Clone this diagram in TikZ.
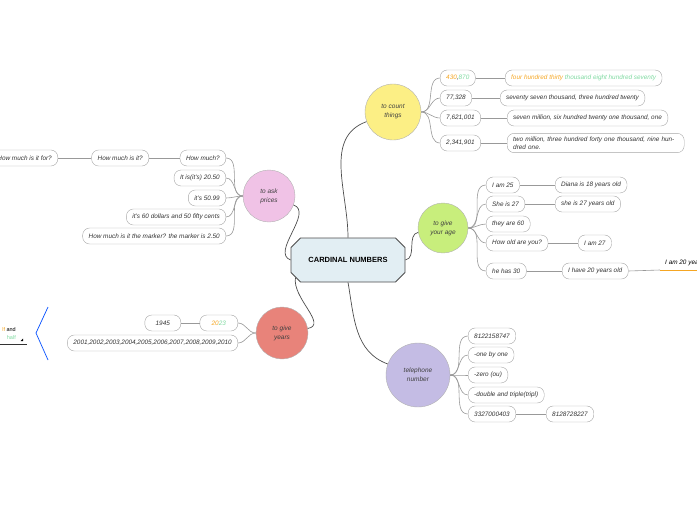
\documentclass[tikz,border=0pt]{standalone}
\usepackage{fontspec}
\setmainfont{Liberation Sans}
\usetikzlibrary{shapes.geometric,shapes.misc}
\definecolor{ora}{HTML}{F5A623}
\definecolor{grn}{HTML}{7ED9A0}
\definecolor{cyl}{HTML}{FCEF85}
\definecolor{cgr}{HTML}{C8EE7C}
\definecolor{cpk}{HTML}{F0C2E6}
\definecolor{csa}{HTML}{E8837A}
\definecolor{clv}{HTML}{C4BCE4}
\definecolor{cbl}{HTML}{E2EEF3}
\begin{document}
\begin{tikzpicture}[x=1pt,y=-1pt,
 bx/.style={draw=gray!70,rounded corners=7pt,minimum height=16pt,inner xsep=6pt,font=\fontsize{6.4}{8}\selectfont\itshape,text=black!80,anchor=west},
 tp/.style={circle,draw=gray!60,font=\fontsize{6.5}{9}\selectfont\itshape,text=black!75,align=center,inner sep=1pt},
 ln/.style={draw=gray!80,line width=0.6pt},
 cn/.style={draw=black!70,line width=0.7pt}]
\useasboundingbox (0,0) rectangle (697,520);
% central
\node[draw=black!70,fill=cbl,line width=0.8pt,chamfered rectangle,chamfered rectangle xsep=6pt,minimum width=114pt,minimum height=44pt,font=\fontsize{7.5}{8}\selectfont\bfseries] (c) at (348,260) {CARDINAL NUMBERS};
% topics
\node[tp,fill=cyl,minimum size=56pt] (t1) at (393,112) {to count\\things};
\node[tp,fill=cgr,minimum size=50pt] (t2) at (443,228) {to give\\your age};
\node[tp,fill=cpk,minimum size=52pt] (t3) at (269,196) {to ask\\prices};
\node[tp,fill=csa,minimum size=52pt] (t4) at (282,333) {to give\\years};
\node[tp,fill=clv,minimum size=64pt] (t5) at (418,375) {telephone\\number};
\draw[cn] (c.north) to[out=90,in=200] (t1);
\draw[cn] (c.east) to[out=10,in=190] (t2);
\draw[cn] (c.west) to[out=160,in=-20] (t3);
\draw[cn] (c.south west) to[out=-100,in=10] (t4);
\draw[cn] (c.south) to[out=-80,in=160] (t5);
% count things
\node[bx] (a1) at (440,78) {\textcolor{ora}{430},\textcolor{grn}{870}};
\node[bx] (a1b) at (505,78) {\textcolor{ora}{four hundred thirty} \textcolor{grn}{thousand eight hundred seventy}};
\node[bx] (a2) at (440,98) {77,328};
\node[bx] (a2b) at (500,98) {seventy seven thousand, three hundred twenty};
\node[bx] (a3) at (440,118) {7,621,001};
\node[bx] (a3b) at (507,118) {seven million, six hundred twenty one thousand, one};
\node[bx] (a4) at (440,143) {2,341,901};
\node[bx,text width=165pt,align=left] (a4b) at (507,143) {two million, three hundred forty one thousand, nine hundred one.};
\foreach \a in {a1,a2,a3,a4} \draw[ln] (t1.east) to[out=0,in=180] (\a.west);
\foreach \a in {a1,a2,a3,a4} \draw[ln] (\a.east) -- (\a b.west);
% age
\node[bx] (b1) at (486,185) {I am 25};
\node[bx] (b1b) at (555,185) {Diana is 18 years old};
\node[bx] (b2) at (486,204) {She is 27};
\node[bx] (b2b) at (555,204) {she is 27 years old};
\node[bx] (b3) at (486,224) {they are 60};
\node[bx] (b4) at (486,243) {How old are you?};
\node[bx] (b4b) at (578,243) {I am 27};
\node[bx] (b5) at (486,271) {he has 30};
\node[bx] (b5b) at (562,271) {I have 20 years old};
\node[anchor=west,font=\fontsize{6.4}{8}\selectfont\itshape,inner sep=1pt] (b6) at (664,263) {I am 20 years old};
\coordinate (b6e) at (700,270);
\foreach \a in {b1,b2,b3,b4,b5} \draw[ln] (t2.east) to[out=0,in=180] (\a.west);
\foreach \a in {b1,b2,b4,b5} \draw[ln] (\a.east) -- (\a b.west);
\draw[ln] (b5b.east) -- (660,270);
\draw[ora,line width=1pt] (660,270) -- (b6e);
% prices
\node[bx,anchor=east] (p1) at (226,158) {How much?};
\node[bx,anchor=east] (p1b) at (149,158) {How much is it?};
\node[bx,anchor=east] (p1c) at (58,158) {How much is it for?};
\node[bx,anchor=east] (p2) at (226,178) {It is(it's) 20.50};
\node[bx,anchor=east] (p3) at (226,198) {it's 50.99};
\node[bx,anchor=east] (p4) at (226,217) {it's 60 dollars and 50 fifty cents};
\node[bx,anchor=east] (p5) at (226,236) {How much is it the marker? the marker is 2.50};
\foreach \a in {p1,p2,p3,p4,p5} \draw[ln] (t3.west) to[out=180,in=0] (\a.east);
\draw[ln] (p1.west) -- (p1b.east);
\draw[ln] (p1b.west) -- (p1c.east);
% years
\node[bx,anchor=east,minimum width=38pt] (y1) at (238,323) {\textcolor{ora}{20}\textcolor{grn}{23}};
\node[bx,anchor=east,minimum width=36pt] (y1b) at (181,323) {1945};
\node[bx,anchor=east] (y2) at (238,343) {2001,2002,2003,2004,2005,2006,2007,2008,2009,2010};
\foreach \a in {y1,y2} \draw[ln] (t4.west) to[out=180,in=0] (\a.east);
\draw[ln] (y1.west) -- (y1b.east);
\draw[blue!70!cyan,line width=0.7pt] (48,307) -- (36,333) -- (48,360);
\node[anchor=east,font=\fontsize{5.5}{8}\selectfont,align=right,inner sep=1pt] (hf) at (17,334) {\textcolor{ora}{lf} and\\\textcolor{grn}{half}};
\draw[black!80,line width=0.6pt] (0,344) -- (27,344);
\fill (23,341) -- (23,338.5) -- (20.5,341) -- cycle;
% telephone
\node[bx] (d1) at (468,336) {8122158747};
\node[bx] (d2) at (468,355) {-one by one};
\node[bx] (d3) at (468,375) {-zero (ou)};
\node[bx] (d4) at (468,395) {-double and triple(tripl)};
\node[bx] (d5) at (468,414) {3327000403};
\node[bx] (d5b) at (546,414) {8128728227};
\foreach \a in {d1,d2,d3,d4,d5} \draw[ln] (t5.east) to[out=0,in=180] (\a.west);
\draw[ln] (d5.east) -- (d5b.west);
\end{tikzpicture}
\end{document}
